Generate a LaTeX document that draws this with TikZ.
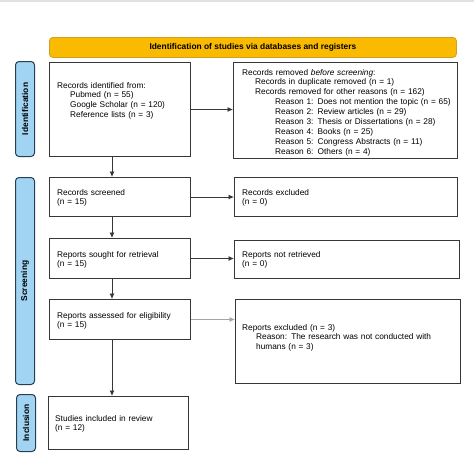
\documentclass[tikz,border=0pt]{standalone}
\usepackage{fontspec}
\setmainfont{Liberation Sans}
\usetikzlibrary{arrows.meta,calc}
\definecolor{bannerfill}{RGB}{250,186,0}
\definecolor{bannerdraw}{RGB}{210,160,30}
\definecolor{sidefill}{RGB}{160,212,242}
\definecolor{sidedraw}{RGB}{40,62,82}
\definecolor{boxdraw}{RGB}{55,55,55}
\definecolor{topband}{RGB}{225,225,225}
\begin{document}
\begin{tikzpicture}[x=1pt,y=-1pt,
  box/.style={draw=boxdraw, line width=1pt, anchor=north west, inner sep=0pt},
  txt/.style={anchor=base west, inner sep=0pt, text width=#1, align=left,
    font=\fontsize{8.3}{9.9}\selectfont},
  side/.style={draw=sidedraw, fill=sidefill, rounded corners=3.5pt, line width=1pt,
    anchor=north west, inner sep=0pt, minimum width=19pt},
  sidetxt/.style={rotate=90, inner sep=0pt, font=\bfseries\fontsize{8.4}{9}\selectfont},
  arr/.style={draw=boxdraw, line width=0.8pt, -{Latex[length=5.5pt,width=5pt]}}]
\useasboundingbox (0,0) rectangle (474,474);
\fill[white] (0,0) rectangle (474,474);
\fill[topband] (0,0) rectangle (474,2);

% banner
\node[draw=bannerdraw, fill=bannerfill, rounded corners=3.5pt, line width=0.8pt,
  minimum width=407pt, minimum height=20pt, anchor=north west, inner sep=0pt,
  font=\bfseries\fontsize{8.4}{9}\selectfont] (banner) at (49,37)
  {Identification of studies via databases and registers};

% side labels
\node[side, minimum height=95pt] (sideid) at (15,61) {};
\node[sidetxt] (sideidt) at (sideid.center) {Identification};
\node[side, minimum height=207pt] (sidescr) at (15,177) {};
\node[sidetxt] (sidescrt) at (sidescr.center) {Screening};
\node[side, minimum height=57pt] (sideinc) at (16,394) {};
\node[sidetxt] (sideinct) at (sideinc.center) {Inclusion};

% boxes
\node[box, minimum width=141pt, minimum height=94pt] (ident) at (49,62) {};
\node[box, minimum width=224pt, minimum height=96pt] (rem) at (233,62) {};
\node[box, minimum width=141pt, minimum height=39pt] (scr) at (49,177) {};
\node[box, minimum width=223pt, minimum height=39pt] (excl) at (234,177) {};
\node[box, minimum width=141pt, minimum height=40pt] (sought) at (49,238) {};
\node[box, minimum width=225pt, minimum height=38pt] (notret) at (234,240) {};
\node[box, minimum width=141pt, minimum height=40pt] (assess) at (49,299) {};
\node[box, minimum width=225pt, minimum height=84pt] (repexcl) at (235,299) {};
\node[box, minimum width=140pt, minimum height=53pt] (incl) at (48,396) {};

% texts
\node[txt=130pt] (identt) at (57,88) {Records identified from:\\
  \hspace*{13pt}Pubmed (n = 55)\\
  \hspace*{13pt}Google Scholar (n = 120)\\
  \hspace*{13pt}Reference lists (n = 3)};
\node[txt=220pt] (remt) at (242,75) {Records removed \textit{before screening}:\\
  \hspace*{13pt}Records in duplicate removed (n = 1)\\
  \hspace*{13pt}Records removed for other reasons (n = 162)\\
  \hspace*{33pt}Reason 1: Does not mention the topic (n = 65)\\
  \hspace*{33pt}Reason 2: Review articles (n = 29)\\
  \hspace*{33pt}Reason 3: Thesis or Dissertations (n = 28)\\
  \hspace*{33pt}Reason 4: Books (n = 25)\\
  \hspace*{33pt}Reason 5: Congress Abstracts (n = 11)\\
  \hspace*{33pt}Reason 6: Others (n = 4)};
\node[txt=135pt] (scrt) at (57,195) {Records screened\\(n = 15)};
\node[txt=210pt] (exclt) at (242,195) {Records excluded\\(n = 0)};
\node[txt=135pt] (soughtt) at (57,257) {Reports sought for retrieval\\(n = 15)};
\node[txt=210pt] (notrett) at (242,257) {Reports not retrieved\\(n = 0)};
\node[txt=135pt] (assesst) at (57,318) {Reports assessed for eligibility\\(n = 15)};
\node[txt=220pt] (repexclt) at (242,330) {Reports excluded (n = 3)\\
  \hspace*{14pt}Reason: The research was not conducted with\\
  \hspace*{14pt}humans (n = 3)};
\node[txt=135pt] (inclt) at (55,421) {Studies included in review\\(n = 12)};

% connectors
\coordinate (vx) at (112,0);
\draw[arr] (ident.east) -- (ident.east -| rem.west);
\draw[arr] (scr.east) -- (scr.east -| excl.west);
\draw[arr] (sought.east) -- (sought.east -| notret.west);
\draw[arr, draw=boxdraw!45] (assess.east) -- (assess.east -| repexcl.west);
\draw[arr] (ident.south -| vx) -- (scr.north -| vx);
\draw[arr] (scr.south -| vx) -- (sought.north -| vx);
\draw[arr] (sought.south -| vx) -- (assess.north -| vx);
\draw[arr] (assess.south -| vx) -- (incl.north -| vx);
\end{tikzpicture}
\end{document}
